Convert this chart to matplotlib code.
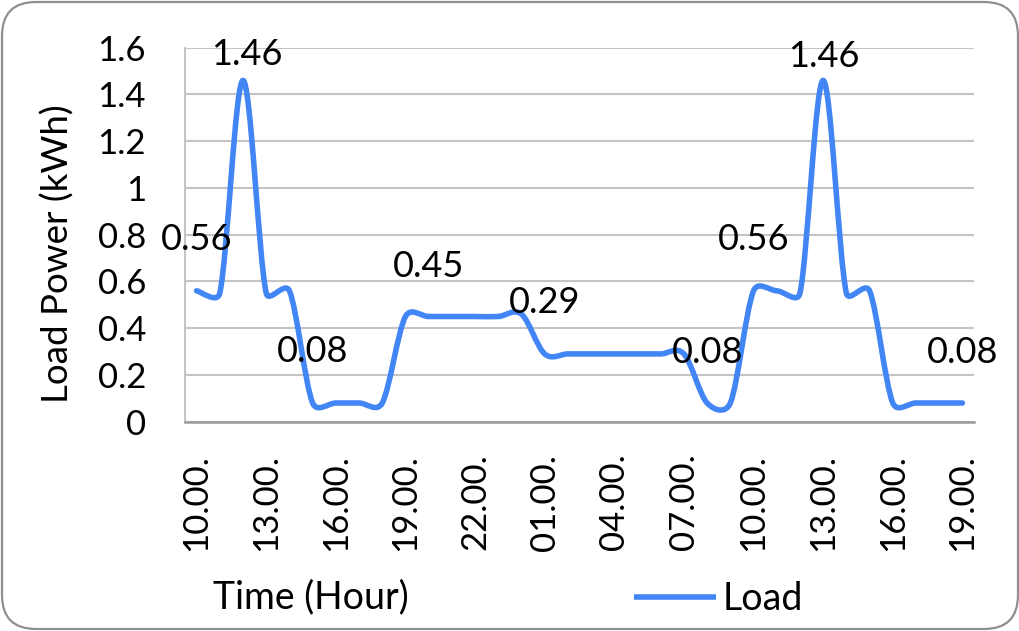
import numpy as np
import matplotlib
matplotlib.use("Agg")
import matplotlib.pyplot as plt
from matplotlib.path import Path
from matplotlib.patches import PathPatch, FancyBboxPatch
from matplotlib.lines import Line2D
from matplotlib.ticker import FixedLocator, FixedFormatter

# ---------------- data ----------------
hours = ["10.00.", "11.00.", "12.00.", "13.00.", "14.00.", "15.00.", "16.00.",
         "17.00.", "18.00.", "19.00.", "20.00.", "21.00.", "22.00.", "23.00.",
         "00.00.", "01.00.", "02.00.", "03.00.", "04.00.", "05.00.", "06.00.",
         "07.00.", "08.00.", "09.00.", "10.00.", "11.00.", "12.00.", "13.00.",
         "14.00.", "15.00.", "16.00.", "17.00.", "18.00.", "19.00."]
load = [0.56, 0.55, 1.46, 0.55, 0.56, 0.08, 0.08, 0.08, 0.08, 0.45,
        0.45, 0.45, 0.45, 0.45, 0.46, 0.29, 0.29, 0.29, 0.29, 0.29,
        0.29, 0.29, 0.08, 0.08, 0.56, 0.56, 0.55, 1.46, 0.55, 0.56,
        0.08, 0.08, 0.08, 0.08]
labelled_points = [0, 2, 5, 10, 15, 22, 24, 27, 33]
y_ticks = [0, 0.2, 0.4, 0.6, 0.8, 1.0, 1.2, 1.4, 1.6]
y_tick_labels = ["0", "0.2", "0.4", "0.6", "0.8", "1", "1.2", "1.4", "1.6"]
series_name = "Load"
x_title = "Time (Hour)"
y_title = "Load Power (kWh)"

# ---------------- style ----------------
FONT = ["Lato", "DejaVu Sans"]
plt.rcParams["font.family"] = FONT
LINE_C = "#4285F4"
GRID_C = "#c4c4c4"
W, H = 1020, 631

fig = plt.figure(figsize=(W / 100, H / 100), dpi=100)

# rounded chart border
bg = fig.add_axes([0, 0, 1, 1], zorder=0)
bg.set_xlim(0, W)
bg.set_ylim(H, 0)
bg.axis("off")
bg.add_patch(FancyBboxPatch((2, 2), W - 4, H - 4,
                            boxstyle="round,pad=0,rounding_size=34",
                            fc="white", ec="#8f8f8f", lw=1.6))

left, right, top, bottom = 185, 974, 47.7, 421.7
ax = fig.add_axes([left / W, 1 - bottom / H, (right - left) / W, (bottom - top) / H],
                  zorder=1)
ax.patch.set_alpha(0)

x = np.arange(len(load))
ax.set_xlim(-0.5, len(load) - 0.5)
ax.set_ylim(0, 1.6)

ax.yaxis.set_major_locator(FixedLocator(y_ticks))
ax.yaxis.set_major_formatter(FixedFormatter(y_tick_labels))
tick_idx = list(range(0, len(hours), 3))
ax.set_xticks(tick_idx)
ax.set_xticklabels([hours[i] for i in tick_idx], rotation=90, va="top", ha="center")

ax.yaxis.grid(True, color=GRID_C, lw=1.5)
ax.set_axisbelow(True)
for s in ["top", "right"]:
    ax.spines[s].set_visible(False)
ax.spines["left"].set_color(GRID_C)
ax.spines["left"].set_linewidth(1.5)
ax.spines["bottom"].set_color("#9a9a9a")
ax.spines["bottom"].set_linewidth(1.8)

ax.tick_params(axis="both", length=0, labelsize=25, colors="black")
ax.tick_params(axis="y", pad=28)
ax.tick_params(axis="x", pad=23)

ax.set_ylabel(y_title, fontsize=26.5)
ax.yaxis.label.set_va("center")
ax.yaxis.set_label_coords(-0.161, 0.449)
ax.set_xlabel(x_title, fontsize=27)
ax.xaxis.label.set_va("center")
ax.xaxis.set_label_coords(0.16, -0.469)


# ---- smoothed line (Excel-style bezier smoothing computed in display space) ----
def smooth_path(xd, yd):
    P = ax.transData.transform(np.column_stack([xd, yd]))
    n = len(P)
    verts = [P[0]]
    codes = [Path.MOVETO]
    for i in range(n - 1):
        p0 = P[i - 1] if i > 0 else P[i]
        p1 = P[i]
        p2 = P[i + 1]
        p3 = P[i + 2] if i + 2 < n else P[i + 1]
        d02 = np.hypot(*(p2 - p0))
        d12 = np.hypot(*(p2 - p1))
        d13 = np.hypot(*(p3 - p1))
        f0 = 1 / 6 if (d02 == 0 or d02 / 6 < d12 / 2) else d12 / (2 * d02)
        f1 = 1 / 6 if (d13 == 0 or d13 / 6 < d12 / 2) else d12 / (2 * d13)
        c1 = p1 + (p2 - p0) * f0
        c2 = p2 - (p3 - p1) * f1
        verts += [c1, c2, p2]
        codes += [Path.CURVE4] * 3
    verts = ax.transData.inverted().transform(np.array(verts))
    return Path(verts, codes)


ax.add_patch(PathPatch(smooth_path(x, load), facecolor="none", edgecolor=LINE_C,
                       lw=4.0, capstyle="round", joinstyle="round", zorder=3))

# data labels
label_offsets = {0: (0, 41), 2: (4, 15), 5: (0, 41), 10: (0, 40), 15: (0, 41),
                 22: (0, 40), 24: (0, 41), 27: (1, 13), 33: (0, 40)}
for i in labelled_points:
    dx, dy = label_offsets[i]
    ax.annotate(f"{load[i]:.2f}", (x[i], load[i]), xytext=(dx, dy),
                textcoords="offset pixels", ha="center", va="baseline",
                fontsize=26, color="black", zorder=4, annotation_clip=False)

# legend
handle = Line2D([], [], color=LINE_C, lw=4.0, solid_capstyle="butt")
fig.legend([handle], [series_name], loc="center left",
           bbox_to_anchor=(634 / W, 1 - 599 / H), frameon=False, fontsize=27,
           handlelength=2.2, handletextpad=0.17, borderpad=0, borderaxespad=0)

fig.savefig("out.png", dpi=100)
